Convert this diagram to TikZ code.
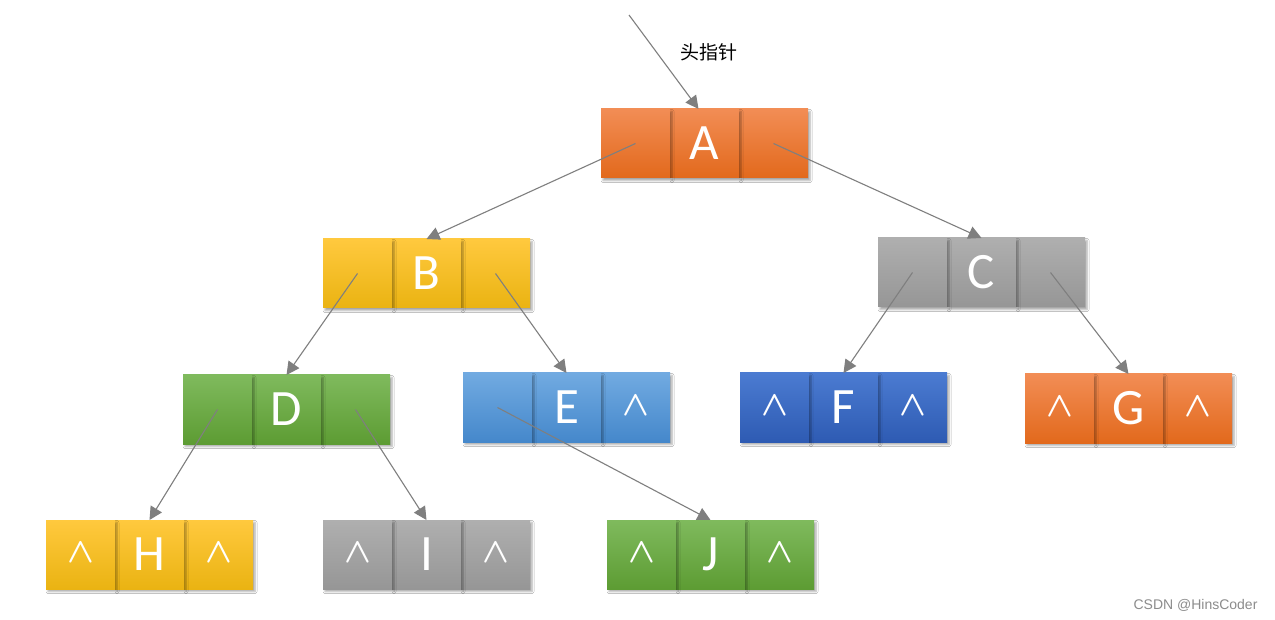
\documentclass[tikz,border=0pt]{standalone}
\usepackage{fontspec}
\setmainfont{Carlito}
\newfontfamily\cjkfont{Noto Sans CJK SC}
\newfontfamily\markfont{Liberation Sans}
\usetikzlibrary{arrows.meta,positioning,shadows.blur}
\definecolor{orangetop}{HTML}{F28D55}
\definecolor{orangebot}{HTML}{E2691C}
\definecolor{yellowtop}{HTML}{FFC93E}
\definecolor{yellowbot}{HTML}{EAB312}
\definecolor{greentop}{HTML}{7FBA5D}
\definecolor{greenbot}{HTML}{5D9C33}
\definecolor{graytop}{HTML}{AFAFAF}
\definecolor{graybot}{HTML}{969696}
\definecolor{skytop}{HTML}{71AAE1}
\definecolor{skybot}{HTML}{4588CB}
\definecolor{navytop}{HTML}{4B7BD1}
\definecolor{navybot}{HTML}{2E5BB3}
\definecolor{linkgray}{HTML}{7F7F7F}
\tikzset{
  cell/.style={
    rectangle, top color=#1top, bottom color=#1bot, draw=none,
    minimum width=69pt, minimum height=69pt,
    inner sep=0pt, outer sep=0pt,
    text=white, font=\fontsize{51}{51}\selectfont,
    blur shadow={shadow xshift=2pt, shadow yshift=-2.5pt,
      shadow opacity=35, shadow blur radius=2pt}
  },
  cell/.default=gray,
  link/.style={
    -{Triangle[length=13pt, width=13pt]}, line width=1.1pt, color=linkgray
  },
}
% one list node: name, centre of right cell, colour, left, data, right
\newcommand{\listnode}[6]{%
  \node[cell=#3] (#1-r) at #2 {#6};
  \node[cell=#3, left=0pt of #1-r] (#1-c) {#5};
  \node[cell=#3, left=0pt of #1-c] (#1-l) {#4};
}
\newcommand{\nil}{\raisebox{3pt}{\normalsize\scalebox{3.5}{\boldmath$\wedge$}}}

\begin{document}
\begin{tikzpicture}[x=1pt, y=-1pt]
    \useasboundingbox[fill=white] (0,0) rectangle (1275,620);
    % nodes
    \listnode{A}{(773.5,143.5)}{orange}{}{A}{}
    \listnode{B}{(495.5,273.5)}{yellow}{}{B}{}
    \listnode{C}{(1050.5,272.5)}{gray}{}{C}{}
    \listnode{D}{(355.5,409.5)}{green}{}{D}{}
    \listnode{E}{(635.5,407.5)}{sky}{}{E}{\nil}
    \listnode{F}{(912.5,407.5)}{navy}{\nil}{F}{\nil}
    \listnode{G}{(1197.5,408.5)}{orange}{\nil}{G}{\nil}
    \listnode{H}{(218.5,554.5)}{yellow}{\nil}{H}{\nil}
    \listnode{I}{(495.5,554.5)}{gray}{\nil}{I}{\nil}
    \listnode{J}{(779.5,554.5)}{green}{\nil}{J}{\nil}
    % head pointer
    \coordinate (head) at (629,15);
    \node[font=\cjkfont\fontsize{19}{19}\selectfont] (headlabel) at (709,52) {头指针};
    \draw[link] (head) -- ([xshift=-6pt]A-c.north);
    % child links
    \draw[link] (A-l.center) -- (B-c.north);
    \draw[link] (A-r.center) -- (C-c.north);
    \draw[link] (B-l.center) -- (D-c.north);
    \draw[link] (B-r.center) -- (E-c.north);
    \draw[link] (C-l.center) -- (F-c.north);
    \draw[link] (C-r.center) -- (G-c.north);
    \draw[link] (D-l.center) -- (H-c.north);
    \draw[link] (D-r.center) -- (I-c.north);
    \draw[link] (E-l.center) -- (J-c.north);
    \node[anchor=east, text=black!45, font=\markfont\fontsize{14}{14}\selectfont] (mark) at (1261,605) {CSDN @HinsCoder};
\end{tikzpicture}
\end{document}
